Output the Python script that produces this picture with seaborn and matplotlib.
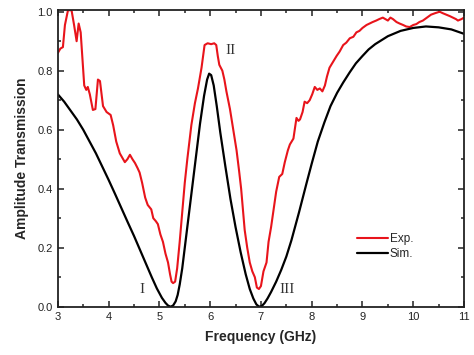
import pandas as pd
import matplotlib
matplotlib.use('Agg')
import matplotlib.pyplot as plt
from matplotlib.ticker import MultipleLocator
import seaborn as sns

# Measured transmission (red curve)
exp_freq = [3.0, 3.05, 3.1, 3.14, 3.2, 3.27, 3.32, 3.37, 3.41, 3.45, 3.49, 3.52, 3.56, 3.59,
            3.63, 3.69, 3.74, 3.79, 3.83, 3.89, 3.96, 4.04, 4.09, 4.15, 4.22, 4.27, 4.32,
            4.37, 4.42, 4.47, 4.52, 4.57, 4.61, 4.66, 4.72, 4.77, 4.84, 4.88, 4.93, 4.97,
            5.02, 5.07, 5.12, 5.17, 5.21, 5.24, 5.27, 5.31, 5.35, 5.40, 5.45, 5.50, 5.55,
            5.63, 5.70, 5.76, 5.83, 5.89, 5.95, 6.02, 6.08, 6.12, 6.15, 6.18, 6.24, 6.28,
            6.32, 6.39, 6.45, 6.52, 6.57, 6.61, 6.65, 6.68, 6.73, 6.78, 6.83, 6.88, 6.92,
            6.96, 7.0, 7.05, 7.11, 7.15, 7.2, 7.25, 7.3, 7.36, 7.42, 7.47, 7.53, 7.57, 7.64,
            7.70, 7.74, 7.77, 7.82, 7.86, 7.91, 7.96, 8.01, 8.06, 8.11, 8.16, 8.21, 8.26,
            8.30, 8.35, 8.42, 8.49, 8.55, 8.62, 8.68, 8.75, 8.82, 8.88, 8.94, 9.0, 9.08,
            9.14, 9.2, 9.27, 9.33, 9.40, 9.45, 9.50, 9.55, 9.6, 9.67, 9.73, 9.8, 9.86, 9.93,
            10.0, 10.06, 10.12, 10.19, 10.27, 10.35, 10.43, 10.52, 10.58, 10.65, 10.72,
            10.78, 10.84, 10.88, 10.95, 11.0]
exp_amp = [0.86, 0.875, 0.88, 0.955, 1.005, 1.005, 0.955, 0.90, 0.96, 0.93, 0.83, 0.75, 0.735,
           0.745, 0.72, 0.667, 0.67, 0.77, 0.765, 0.68, 0.66, 0.65, 0.615, 0.56, 0.52, 0.505,
           0.49, 0.50, 0.515, 0.50, 0.487, 0.47, 0.455, 0.42, 0.37, 0.345, 0.33, 0.30, 0.29,
           0.28, 0.245, 0.22, 0.18, 0.15, 0.11, 0.085, 0.08, 0.085, 0.13, 0.22, 0.32, 0.42,
           0.50, 0.616, 0.69, 0.74, 0.81, 0.887, 0.893, 0.89, 0.893, 0.887, 0.85, 0.82, 0.80,
           0.77, 0.73, 0.67, 0.605, 0.53, 0.46, 0.40, 0.32, 0.26, 0.20, 0.15, 0.12, 0.10,
           0.065, 0.06, 0.07, 0.12, 0.15, 0.22, 0.27, 0.33, 0.39, 0.44, 0.45, 0.49, 0.53,
           0.55, 0.57, 0.64, 0.63, 0.635, 0.66, 0.695, 0.69, 0.70, 0.72, 0.745, 0.735, 0.74,
           0.73, 0.75, 0.78, 0.81, 0.83, 0.85, 0.865, 0.887, 0.895, 0.91, 0.915, 0.93, 0.935,
           0.945, 0.955, 0.96, 0.965, 0.97, 0.975, 0.98, 0.975, 0.97, 0.98, 0.975, 0.965,
           0.96, 0.955, 0.95, 0.948, 0.955, 0.958, 0.965, 0.97, 0.98, 0.99, 0.995, 1.0,
           0.995, 0.99, 0.985, 0.98, 0.975, 0.97, 0.975, 0.98]

# Simulated transmission (black curve)
sim_freq = [3.0, 3.125, 3.25, 3.375, 3.5, 3.625, 3.75, 3.875, 4.0, 4.125, 4.25, 4.375, 4.5,
            4.625, 4.75, 4.85, 4.95, 5.05, 5.12, 5.17, 5.22, 5.27, 5.32, 5.36, 5.4, 5.45,
            5.5, 5.6, 5.7, 5.8, 5.88, 5.94, 5.98, 6.02, 6.07, 6.13, 6.2, 6.3, 6.4, 6.5,
            6.6, 6.7, 6.78, 6.85, 6.91, 6.95, 6.98, 7.02, 7.07, 7.13, 7.2, 7.3, 7.4, 7.5,
            7.6, 7.75, 7.9, 8.0, 8.12, 8.25, 8.37, 8.5, 8.62, 8.75, 8.87, 9.0, 9.12, 9.25,
            9.5, 9.75, 10.0, 10.25, 10.5, 10.75, 11.0]
sim_amp = [0.72, 0.695, 0.665, 0.635, 0.60, 0.56, 0.52, 0.475, 0.43, 0.383, 0.335, 0.287,
           0.24, 0.19, 0.14, 0.10, 0.062, 0.03, 0.013, 0.004, 0.0, 0.004, 0.018, 0.04, 0.075,
           0.13, 0.20, 0.34, 0.48, 0.62, 0.715, 0.77, 0.79, 0.785, 0.75, 0.68, 0.59, 0.475,
           0.365, 0.27, 0.185, 0.11, 0.06, 0.028, 0.008, 0.002, 0.0, 0.003, 0.012, 0.028,
           0.05, 0.085, 0.125, 0.17, 0.225, 0.32, 0.42, 0.485, 0.56, 0.625, 0.68, 0.725,
           0.76, 0.795, 0.825, 0.85, 0.872, 0.89, 0.917, 0.935, 0.945, 0.95, 0.947, 0.94,
           0.925]

df_exp = pd.DataFrame({'Frequency': exp_freq, 'Amplitude': exp_amp})
df_sim = pd.DataFrame({'Frequency': sim_freq, 'Amplitude': sim_amp})

sns.set_style('ticks')
plt.rcParams['font.family'] = ['Liberation Sans', 'DejaVu Sans']

fig = plt.figure(figsize=(4.74, 3.55), dpi=100)
ax = fig.add_axes([0.122, 0.136, 0.857, 0.836])

sns.lineplot(data=df_exp, x='Frequency', y='Amplitude', color='#e8141b', linewidth=1.5,
             sort=False, label='Exp.', ax=ax)
sns.lineplot(data=df_sim, x='Frequency', y='Amplitude', color='black', linewidth=1.6,
             sort=False, label='Sim.', ax=ax)

ax.set_xlim(3, 11)
ax.set_ylim(0, 1.006)
ax.xaxis.set_major_locator(MultipleLocator(1))
ax.xaxis.set_minor_locator(MultipleLocator(0.5))
ax.yaxis.set_major_locator(MultipleLocator(0.2))
ax.yaxis.set_minor_locator(MultipleLocator(0.1))
ax.tick_params(which='both', direction='in', top=True, right=True, width=1.1,
               labelsize=8, colors='#222222')
ax.tick_params(which='major', length=4.5)
ax.tick_params(which='minor', length=2.5)
for s in ax.spines.values():
    s.set_linewidth(1.3)
    s.set_color('#222222')

ax.set_xlabel('Frequency (GHz)', fontsize=10, fontweight='bold', labelpad=6)
ax.set_ylabel('Amplitude Transmission', fontsize=10, fontweight='bold', labelpad=6)

# resonance labels
serif = ['Liberation Serif', 'DejaVu Serif']
ax.text(4.65, 0.06, 'I', family=serif, fontsize=11, ha='center', va='center', color='#333333')
ax.text(6.4, 0.87, 'II', family=serif, fontsize=11, ha='center', va='center', color='#333333')
ax.text(7.52, 0.06, 'III', family=serif, fontsize=11, ha='center', va='center', color='#333333')

ax.legend(loc='lower left', bbox_to_anchor=(0.71, 0.12), frameon=False, fontsize=8.5,
          handlelength=2.6, handletextpad=0.2, labelspacing=0.3)

fig.savefig('out.png', dpi=100)
